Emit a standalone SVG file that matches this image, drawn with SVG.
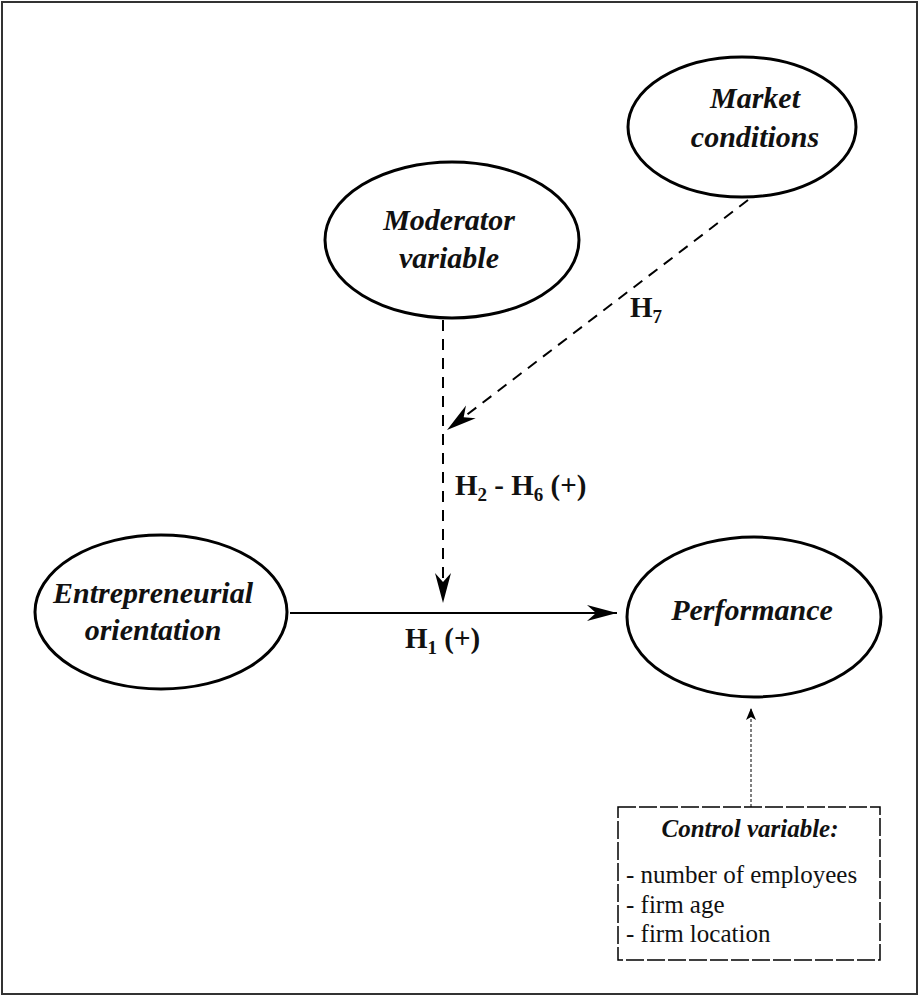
<svg xmlns="http://www.w3.org/2000/svg" width="920" height="997" viewBox="0 0 920 997">
<style>
.node{fill:#fff;stroke:#000;stroke-width:3}
.lbl{font-family:"Liberation Serif",serif;font-weight:bold;font-style:italic;font-size:30px;text-anchor:middle;fill:#111}
.h{font-family:"Liberation Serif",serif;font-weight:bold;font-size:29px;fill:#111}
.sub{font-size:19px}
.box{font-family:"Liberation Serif",serif;font-size:25px;fill:#111}
</style>
<defs>
<marker id="arr" markerUnits="userSpaceOnUse" markerWidth="34" markerHeight="20" refX="30" refY="10" orient="auto">
<path d="M0,2 L30,10 L0,18 L9,10 z" fill="#000"/>
</marker>
<marker id="arrs" markerUnits="userSpaceOnUse" markerWidth="14" markerHeight="14" refX="12" refY="7" orient="auto">
<path d="M0,2 L12,7 L0,12 L3,7 z" fill="#000"/>
</marker>
</defs>
<rect x="2" y="2" width="915" height="992" fill="#fff" stroke="#333" stroke-width="2"/>
<g id="connectors" fill="none" stroke="#000">
<line x1="290" y1="613" x2="617" y2="613" stroke-width="2" marker-end="url(#arr)"/>
<line x1="443" y1="320" x2="443" y2="603" stroke-width="2" stroke-dasharray="11,8" marker-end="url(#arr)"/>
<line x1="748" y1="200" x2="447" y2="430" stroke-width="2" stroke-dasharray="11,8" marker-end="url(#arr)"/>
<line x1="751" y1="807" x2="751" y2="708" stroke-width="1" stroke-dasharray="3,2" marker-end="url(#arrs)"/>
</g>
<g id="market">
<ellipse class="node" cx="742" cy="127" rx="114" ry="70"/>
<text class="lbl" x="755" y="108">Market</text>
<text class="lbl" x="755" y="147">conditions</text>
</g>
<g id="moderator">
<ellipse class="node" cx="452" cy="240" rx="127" ry="78"/>
<text class="lbl" x="449" y="230">Moderator</text>
<text class="lbl" x="449" y="268">variable</text>
</g>
<g id="eo">
<ellipse class="node" cx="161" cy="612" rx="126" ry="77"/>
<text class="lbl" x="153" y="603">Entrepreneurial</text>
<text class="lbl" x="153" y="640">orientation</text>
</g>
<g id="performance">
<ellipse class="node" cx="754" cy="617" rx="127" ry="80"/>
<text class="lbl" x="752" y="620">Performance</text>
</g>
<g id="labels">
<text class="h" x="630" y="317">H<tspan class="sub" dy="6">7</tspan></text>
<text class="h" x="455" y="495">H<tspan class="sub" dy="6">2</tspan><tspan dy="-6"> - H</tspan><tspan class="sub" dy="6">6</tspan><tspan dy="-6"> (+)</tspan></text>
<text class="h" x="405" y="648">H<tspan class="sub" dy="6">1</tspan><tspan dy="-6"> (+)</tspan></text>
</g>
<g id="control">
<rect x="618" y="807" width="262" height="153" fill="#fff" stroke="#000" stroke-width="1.5" stroke-dasharray="18,3"/>
<text class="box" x="750" y="837" text-anchor="middle" font-weight="bold" font-style="italic">Control variable:</text>
<text class="box" x="626" y="883">- number of employees</text>
<text class="box" x="626" y="913">- firm age</text>
<text class="box" x="626" y="942">- firm location</text>
</g>
</svg>
